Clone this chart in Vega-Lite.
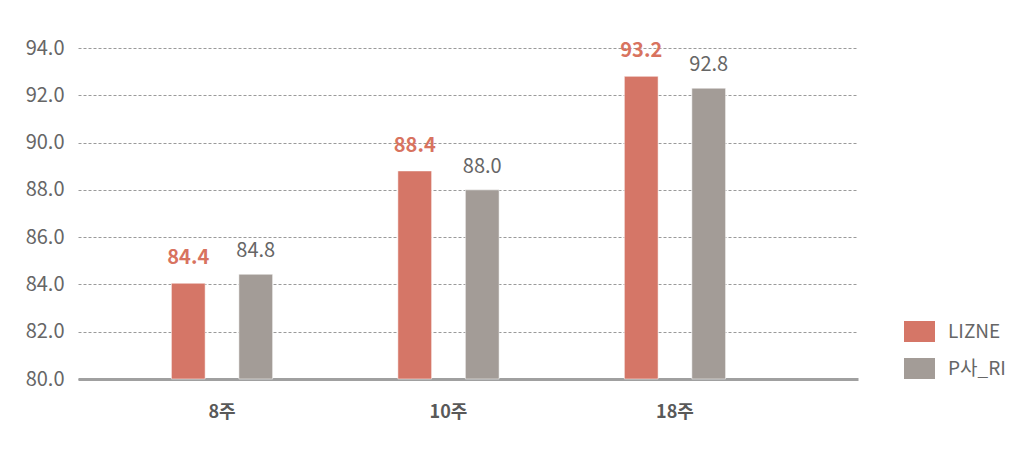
{
  "$schema": "https://vega.github.io/schema/vega-lite/v6.json",
  "autosize": "none",
  "width": 780,
  "height": 331,
  "padding": {"left": 78, "top": 48, "right": 166, "bottom": 72},
  "background": "white",
  "config": {"font": "Noto Sans CJK KR", "view": {"stroke": null}},
  "data": {
    "values": [
      {"week": "8주", "series": "LIZNE", "value": 84.05, "label": "84.4"},
      {"week": "8주", "series": "P사_RI", "value": 84.43, "label": "84.8"},
      {"week": "10주", "series": "LIZNE", "value": 88.8, "label": "88.4"},
      {"week": "10주", "series": "P사_RI", "value": 88.0, "label": "88.0"},
      {"week": "18주", "series": "LIZNE", "value": 92.8, "label": "93.2"},
      {"week": "18주", "series": "P사_RI", "value": 92.3, "label": "92.8"}
    ]
  },
  "encoding": {
    "x": {
      "field": "week", "type": "nominal", "sort": ["8주", "10주", "18주"],
      "scale": {"paddingInner": 0, "paddingOuter": 0.222, "align": 0.306},
      "axis": {"title": null, "labelAngle": 0, "ticks": false, "grid": false, "domainColor": "#a0a0a0", "domainWidth": 3, "labelFontSize": 18, "labelFontWeight": "bold", "labelColor": "#595959", "labelPadding": 24}
    },
    "xOffset": {"field": "series", "type": "nominal", "scale": {"paddingInner": 0.5, "paddingOuter": 0.928}},
    "y": {
      "field": "value", "type": "quantitative",
      "scale": {"domain": [80, 94], "zero": false, "nice": false},
      "axis": {"title": null, "values": [80, 82, 84, 86, 88, 90, 92, 94], "format": ".1f", "grid": true, "gridDash": [3, 2], "gridColor": "#9a9a9a", "gridWidth": 1, "domain": false, "ticks": false, "labelFontSize": 20, "labelColor": "#666666", "labelPadding": 14}
    }
  },
  "layer": [
    {
      "mark": {"type": "bar", "stroke": "#ffffff", "strokeWidth": 1, "strokeOpacity": 0.5},
      "encoding": {
        "y2": {"datum": 80},
        "color": {
          "field": "series", "type": "nominal",
          "scale": {"domain": ["LIZNE", "P사_RI"], "range": ["#d57667", "#a39c97"]},
          "legend": {"orient": "none", "legendX": 831, "legendY": 273, "title": null, "symbolType": "M-1.476,-1H1.476V1H-1.476Z", "symbolSize": 441, "symbolStrokeWidth": 0, "symbolOpacity": 1, "labelFontSize": 19, "labelColor": "#666666", "labelOffset": 18, "rowPadding": 16}
        }
      }
    },
    {
      "transform": [{"filter": "datum.series === 'LIZNE'"}],
      "mark": {"type": "text", "fontWeight": "bold", "fontSize": 20, "color": "#d8735f", "baseline": "middle", "dy": -25},
      "encoding": {"text": {"field": "label"}}
    },
    {
      "transform": [{"filter": "datum.series === 'P사_RI'"}],
      "mark": {"type": "text", "fontSize": 20, "color": "#666666", "baseline": "middle", "dy": -23},
      "encoding": {"text": {"field": "label"}}
    }
  ]
}
